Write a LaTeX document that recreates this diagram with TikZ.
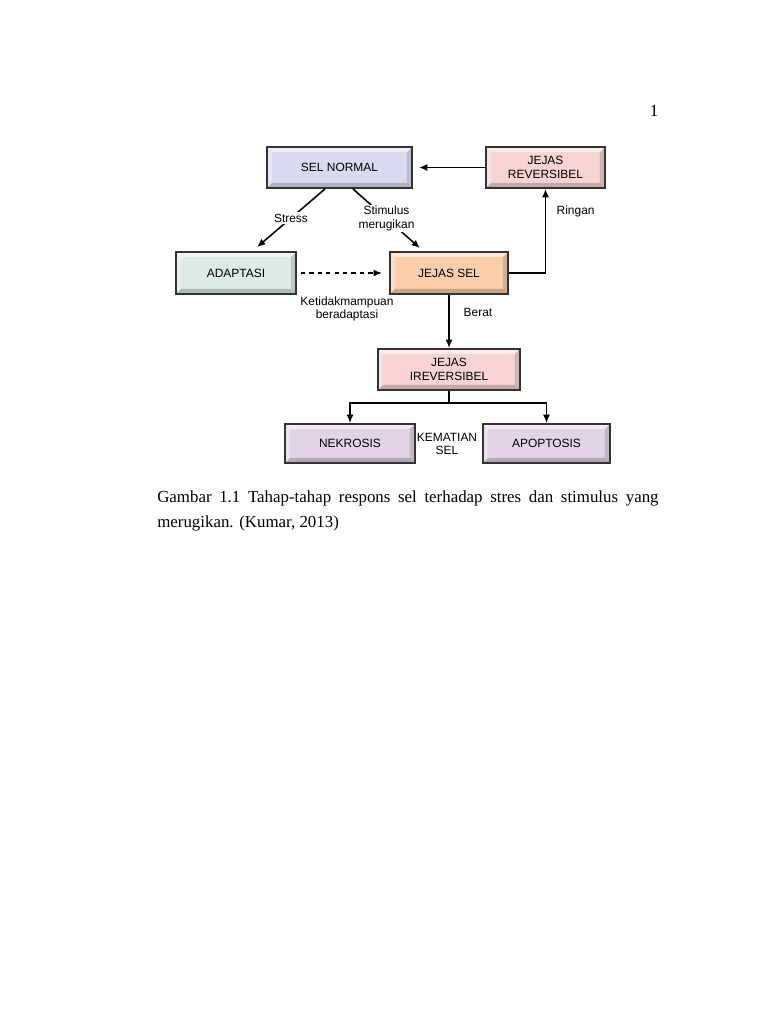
\documentclass[tikz,border=0pt]{standalone}
\usepackage{fontspec}
\setmainfont{Liberation Serif}
\newfontfamily\diagfont{Liberation Sans}
\usetikzlibrary{arrows.meta,calc}
\definecolor{normalfill}{RGB}{216,219,239}
\definecolor{reverfill}{RGB}{247,211,211}
\definecolor{adaptfill}{RGB}{220,235,227}
\definecolor{jejasfill}{RGB}{250,206,170}
\definecolor{matifill}{RGB}{227,211,231}
\newcommand{\bevw}{0.13cm}
\begin{document}
\begin{tikzpicture}[x=0.025cm, y=-0.025cm]
    % Define styles
    \tikzset{
        bevelbox/.style 2 args={draw=black!80, line width=1.2pt, fill=#1,
            minimum width=#2, minimum height=1.03cm, inner sep=0pt, align=center,
            font=\diagfont\fontsize{8.5}{9.5}\selectfont,
            path picture={
                \fill[white, opacity=0.55] (path picture bounding box.north west)
                    -- (path picture bounding box.north east)
                    -- ([xshift=-\bevw, yshift=-\bevw]path picture bounding box.north east)
                    -- ([xshift=\bevw, yshift=-\bevw]path picture bounding box.north west) -- cycle;
                \fill[white, opacity=0.35] (path picture bounding box.north west)
                    -- (path picture bounding box.south west)
                    -- ([xshift=\bevw, yshift=\bevw]path picture bounding box.south west)
                    -- ([xshift=\bevw, yshift=-\bevw]path picture bounding box.north west) -- cycle;
                \fill[black, opacity=0.2] (path picture bounding box.south west)
                    -- (path picture bounding box.south east)
                    -- ([xshift=-\bevw, yshift=\bevw]path picture bounding box.south east)
                    -- ([xshift=\bevw, yshift=\bevw]path picture bounding box.south west) -- cycle;
                \fill[black, opacity=0.14] (path picture bounding box.north east)
                    -- (path picture bounding box.south east)
                    -- ([xshift=-\bevw, yshift=\bevw]path picture bounding box.south east)
                    -- ([xshift=-\bevw, yshift=-\bevw]path picture bounding box.north east) -- cycle;
            }},
        lbl/.style={font=\diagfont\fontsize{8.5}{9.5}\selectfont, align=center, inner sep=1pt},
        arr/.style={line width=1.1pt, -{Latex[length=6pt, width=5pt]}}
    }

    % Page
    \fill[white] (0,0) rectangle (768,1024);
    \useasboundingbox (0,0) rectangle (768,1024);
    \node[font=\fontsize{12}{14}\selectfont, inner sep=0pt] (pagenum) at (654,111) {1};

    % Boxes
    \node[bevelbox={normalfill}{3.63cm}] (normal) at (339.5,167.5) {SEL NORMAL};
    \node[bevelbox={reverfill}{2.98cm}] (rever) at (545.5,167.5) {JEJAS\\REVERSIBEL};
    \node[bevelbox={adaptfill}{3.0cm}, minimum height=1.05cm] (adapt) at (236,273) {ADAPTASI};
    \node[bevelbox={jejasfill}{2.95cm}, minimum height=1.05cm] (jejas) at (449,273) {JEJAS SEL};
    \node[bevelbox={reverfill}{3.55cm}] (irever) at (449,369.5) {JEJAS\\IREVERSIBEL};
    \node[bevelbox={matifill}{3.25cm}, minimum height=0.98cm] (nekrosis) at (350,443.5) {NEKROSIS};
    \node[bevelbox={matifill}{3.18cm}, minimum height=0.98cm] (apoptosis) at (546.5,443.5) {APOPTOSIS};

    % Connectors
    \draw[arr, shorten >=0.15cm] (rever.west) -- (normal.east);
    \draw[arr] (jejas.east) -| (rever.south);
    \node[lbl, anchor=west] (ringan) at (555,211) {Ringan};
    \draw[arr] ($(normal.south)+(-14.5,0)$) -- node[lbl, fill=white] (stress) {Stress} ($(adapt.north)+(21,-4)$);
    \draw[arr] ($(normal.south)+(13.5,0)$) -- node[lbl, fill=white] (stimulus) {Stimulus\\merugikan} ($(jejas.north)+(-29,-3)$);
    \draw[arr, dashed, shorten <=0.1cm, shorten >=0.18cm] (adapt.east) -- (jejas.west);
    \node[lbl] (ketidak) at (347,309) {Ketidakmampuan\\beradaptasi};
    \draw[arr] (jejas.south) -- (irever.north);
    \node[lbl, anchor=west] (berat) at (462,312) {Berat};
    \draw[line width=1.1pt] (irever.south) -- ++(0,12) coordinate (split);
    \draw[arr] (split) -| (nekrosis.north);
    \draw[arr] (split) -| (apoptosis.north);
    \node[lbl] (kematian) at (447,444) {KEMATIAN\\SEL};

    % Caption
    \node[anchor=north west, inner sep=0pt, text width=12.53cm, align=justify,
        font=\fontsize{12}{17.7}\selectfont] (caption) at (157,491)
        {Gambar 1.1 Tahap-tahap respons sel terhadap stres dan stimulus yang\linebreak merugikan. (Kumar, 2013)};
\end{tikzpicture}
\end{document}
